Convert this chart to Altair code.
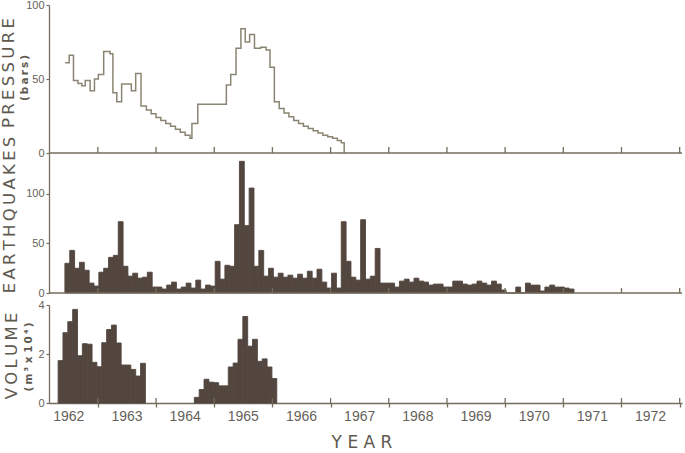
import altair as alt
import pandas as pd

# ---------------- data ----------------
# Wellhead pressure (bars): step breakpoints, months since Jan 1962
p_month = [5.26, 6.08, 6.97, 7.9, 8.7, 9.4, 10.4, 11.3, 12.1, 13.2, 14.5, 15.1, 15.9,
           16.9, 18.9, 19.8, 20.9, 22, 23, 24, 25, 26, 27, 28, 29, 30, 31, 31.4, 32.6,
           38.5, 39.4, 40.5, 41.5, 42.4, 43.3, 44.3, 45.6, 46.7, 47.5, 48.4, 49.4, 50.4,
           51.4, 52.4, 53.4, 54.4, 55.4, 56.4, 57.4, 58.4, 59.4, 60.4, 61.4, 62.2, 62.8]
p_value = [61, 66, 49, 47, 45.5, 49, 42, 50, 53, 68.5, 67, 40.7, 34.7,
           46.6, 42, 53.8, 31.8, 29, 26.5, 24, 22, 20, 18, 16, 14, 12, 10, 20, 33,
           46, 53, 70.7, 84, 75, 80, 70.7, 71.5, 69.6, 58, 34.7, 30, 27,
           24.5, 22, 20, 18, 16.5, 15, 13.5, 12, 11, 10, 8.5, 7, 0]

# Earthquakes per month, first month starts at eq_start (months since Jan 1962)
eq_start = 5.2
eq_counts = [30, 43, 25, 31, 23, 10, 7, 21, 25, 36, 38, 72, 27, 17, 20, 15, 16, 21, 6, 6,
             4, 8, 11, 4, 6, 10, 5, 13, 4, 8, 7, 32, 14, 28, 27, 69, 133, 68, 106, 27,
             43, 17, 25, 16, 20, 16, 18, 15, 19, 15, 22, 15, 24, 11, 5, 20, 5, 72,
             32, 16, 13, 74, 14, 17, 45,
             10, 10, 10, 6, 12, 14, 11, 15, 12, 11, 8, 9, 9, 6, 6, 12, 12, 9, 8, 9,
             12, 10, 8, 12, 9, 3, 0, 0, 6, 0, 10, 8, 8, 2, 6, 8, 6, 6, 5, 4]

# Injected volume (m^3 x 10^4) per month, two injection periods
vol1_start = 3.8
vol1 = [1.73, 2.87, 3.32, 3.82, 1.93, 2.42, 2.4, 1.66, 1.48, 2.46, 3.0, 3.18, 2.45,
        1.55, 1.55, 1.37, 1.1, 1.62]
vol2_start = 31.9
vol2 = [0.23, 0.55, 0.97, 0.85, 0.83, 0.7, 0.7, 1.47, 1.63, 2.6, 3.53, 2.32, 2.6,
        1.7, 1.8, 1.47, 1.0]

tick_years = list(range(1963, 1974))
label_years = list(range(1962, 1973))

# ---------------- styling ----------------
W, H = 633, 398
X0, X1 = 1962.16, 1973.04
BAR = "#52463f"
LINE = "#8a8573"
AXC = "#746d5d"
TXT = "#66625a"
TTL = "#5e5a50"
FONT = "DejaVu Sans"
LFONT = "Liberation Sans"

xs = alt.Scale(domain=[X0, X1], nice=False, zero=False)
xaxis = alt.Axis(orient="bottom", values=tick_years, labels=False, ticks=True, tickSize=4,
                 tickColor=AXC, domainColor=AXC, domainWidth=1.3, tickWidth=1.3,
                 grid=False, title=None)

def yaxis(vals):
    return alt.Axis(orient="left", values=vals, title=None, grid=False, tickSize=3,
                    tickColor=AXC, domainColor=AXC, domainWidth=1.3, tickWidth=1.2,
                    labelFont=LFONT, labelFontSize=11, labelColor=TXT, labelPadding=2,
                    labelFlush=False)

def X(field):
    return alt.X(field, scale=xs, axis=xaxis)

# ---------------- pressure panel ----------------
ps = alt.Scale(domain=[0, 100], range=[148, 0], nice=False, zero=False)
pdf = pd.DataFrame({"year": [1962 + m / 12 for m in p_month], "p": p_value})
p_line = alt.Chart(pdf).mark_line(interpolate="step-after", color=LINE, strokeWidth=1.5).encode(
    x=X("year:Q"), y=alt.Y("p:Q", scale=ps, axis=yaxis([0, 50, 100])))
tdf_p = pd.DataFrame({"year": tick_years, "a": 0, "b": 4})
p_ticks = alt.Chart(tdf_p).mark_rule(color=AXC, strokeWidth=1.3).encode(
    x=X("year:Q"), y=alt.Y("a:Q", scale=ps, axis=yaxis([0, 50, 100])), y2="b:Q")
base_p = pd.DataFrame({"x0": [X0], "x1": [X1], "y": [0]})
p_base = alt.Chart(base_p).mark_rule(color=AXC, strokeWidth=1.3).encode(
    x=X("x0:Q"), x2="x1:Q", y=alt.Y("y:Q", scale=ps, axis=yaxis([0, 50, 100])))
panel_p = alt.layer(p_line, p_ticks, p_base)

# ---------------- earthquake panel ----------------
es = alt.Scale(domain=[0, 141.4], range=[288, 148], nice=False, zero=False)
edf = pd.DataFrame({
    "x0": [1962 + (eq_start + i) / 12 for i in range(len(eq_counts))],
    "x1": [1962 + (eq_start + i + 1) / 12 for i in range(len(eq_counts))],
    "n": eq_counts, "z": 0})
e_bars = alt.Chart(edf).mark_rect(color=BAR, stroke=BAR, strokeWidth=0.9).encode(
    x=X("x0:Q"), x2="x1:Q", y=alt.Y("n:Q", scale=es, axis=yaxis([0, 50, 100])), y2="z:Q")
tdf_e = pd.DataFrame({"year": tick_years, "a": 0, "b": 5})
e_ticks = alt.Chart(tdf_e).mark_rule(color=AXC, strokeWidth=1.3).encode(
    x=X("year:Q"), y=alt.Y("a:Q", scale=es, axis=yaxis([0, 50, 100])), y2="b:Q")
e_base = alt.Chart(base_p).mark_rule(color=AXC, strokeWidth=1.3).encode(
    x=X("x0:Q"), x2="x1:Q", y=alt.Y("y:Q", scale=es, axis=yaxis([0, 50, 100])))
panel_e = alt.layer(e_bars, e_ticks, e_base)

# ---------------- volume panel ----------------
vs = alt.Scale(domain=[0, 4], range=[398, 300], nice=False, zero=False)
vstarts = [vol1_start + i for i in range(len(vol1))] + [vol2_start + i for i in range(len(vol2))]
vdf = pd.DataFrame({
    "x0": [1962 + m / 12 for m in vstarts],
    "x1": [1962 + (m + 1) / 12 for m in vstarts],
    "v": vol1 + vol2, "z": 0})
v_bars = alt.Chart(vdf).mark_rect(color=BAR, stroke=BAR, strokeWidth=0.9).encode(
    x=X("x0:Q"), x2="x1:Q", y=alt.Y("v:Q", scale=vs, axis=yaxis([0, 2, 4])), y2="z:Q")
tdf_v = pd.DataFrame({"year": tick_years, "a": 0, "b": 0.2})
v_ticks = alt.Chart(tdf_v).mark_rule(color=AXC, strokeWidth=1.3).encode(
    x=X("year:Q"), y=alt.Y("a:Q", scale=vs, axis=yaxis([0, 2, 4])), y2="b:Q")
panel_v = alt.layer(v_bars, v_ticks)

# ---------------- text ----------------
ldf = pd.DataFrame({"mid": [y + 0.5 for y in label_years], "lab": [str(y) for y in label_years]})
year_labels = alt.Chart(ldf).mark_text(font=LFONT, fontSize=14, color=TXT, baseline="middle").encode(
    x=X("mid:Q"), y=alt.value(412), text="lab:N")

ts = "\u2009"
titles = pd.DataFrame({
    "t": [ts.join("PRESSURE"), ts.join("(bars)"), ts.join("EARTHQUAKES"), ts.join("VOLUME"),
          ts.join("(m³") + " x " + ts.join("10⁴)")],
    "px": [-40, -24, -39, -37, -20],
    "py": [68, 73, 210, 351, 352],
    "fs": [16.5, 10.5, 16.5, 16.5, 10.5],
})
def title_text(i, bold=False):
    r = titles.iloc[i]
    return alt.Chart(titles.iloc[[i]]).mark_text(
        font=FONT, fontSize=float(r.fs), angle=270, color=TTL, align="center",
        baseline="middle", fontWeight="bold" if bold else "normal").encode(
        x=alt.value(float(r.px)), y=alt.value(float(r.py)), text="t:N")

ydf = pd.DataFrame({"t": ["Y E A R"]})
year_title = alt.Chart(ydf).mark_text(font=FONT, fontSize=17, color=TTL, align="center",
                                      baseline="middle").encode(
    x=alt.value(313), y=alt.value(438), text="t:N")

chart = alt.layer(
    panel_p, panel_e, panel_v, year_labels,
    title_text(0), title_text(1, True), title_text(2), title_text(3), title_text(4, True),
    year_title,
).resolve_scale(y="independent").resolve_axis(y="independent").properties(
    width=W, height=H,
    autosize=alt.AutoSizeParams(type="none"),
    padding={"left": 49, "top": 5, "right": 3, "bottom": 50},
    background="white",
).configure_view(stroke=None)

chart.save("out.html", embed_options={"renderer": "svg", "actions": False})
